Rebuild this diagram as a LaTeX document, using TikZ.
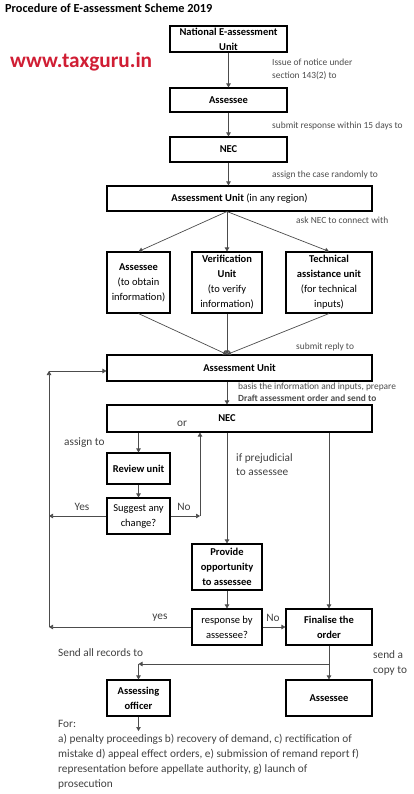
\documentclass[tikz,border=0pt]{standalone}
\usepackage{fontspec}
\setmainfont{Carlito}
\usetikzlibrary{arrows.meta}
\definecolor{guru}{RGB}{208,30,52}

\begin{document}
\begin{tikzpicture}[x=1pt,y=-1pt]
			\tikzset{
			  box/.style = { draw, line width=1.1pt, align=center, inner sep=1pt,
			                 font = \fontsize{10.5}{15}\selectfont\bfseries },
			  ask/.style = { box, font = \fontsize{10.5}{15}\selectfont },
			  lbl/.style = { anchor=west, align=left, inner sep=0pt, text=black!70,
			                 font = \fontsize{9.4}{12.5}\selectfont },
			  txt/.style = { align=left, inner sep=0pt, text=black!75,
			                 font = \fontsize{11.3}{15}\selectfont },
			  conn/.style = { -{Triangle[length=4pt,width=4.5pt]}, draw=black!70,
			                  line width=0.7pt } }
			\useasboundingbox (0,0) rectangle (414,794);
			\node[anchor=west, inner sep=0pt, font=\fontsize{12.3}{14}\selectfont\bfseries] (title) at (5,8) {Procedure of E-assessment Scheme 2019};
			\node[anchor=west, inner sep=0pt, text=guru, font=\fontsize{21.3}{24}\selectfont\bfseries] (site) at (10,62) {www.taxguru.in};
			% main column
			\node[box, minimum width=117, minimum height=26] (natunit) at (228.5,39) {National E-assessment\\Unit};
			\node[box, minimum width=117, minimum height=24] (assessee) at (228.5,100) {Assessee};
			\node[box, minimum width=117, minimum height=25] (nec) at (228.5,149.5) {NEC};
			\node[box, minimum width=265, minimum height=25] (asunit) at (239.5,198.5) {Assessment Unit {\mdseries (in any region)}};
			\node[box, minimum width=63, minimum height=61] (obtain) at (138.5,282.5) {Assessee\\{\mdseries (to obtain}\\{\mdseries information)}};
			\node[box, minimum width=70, minimum height=61] (verify) at (227,282.5) {Verification\\Unit\\{\mdseries (to verify}\\{\mdseries information)}};
			\node[box, minimum width=86, minimum height=61] (tech) at (329,282.5) {Technical\\assistance unit\\{\mdseries (for technical}\\{\mdseries inputs)}};
			\node[box, minimum width=265, minimum height=26] (asunit2) at (239.5,368) {Assessment Unit};
			\node[box, minimum width=265, minimum height=27] (nec2) at (239.5,418.5) {};
			\node[inner sep=0pt, font=\fontsize{10.5}{15}\selectfont\bfseries] (nec2txt) at (nec2.center -| verify) {NEC};
			\node[box, minimum width=63, minimum height=31] (review) at (138.5,468.5) {Review unit};
			\node[ask, minimum width=63, minimum height=36] (suggest) at (138.5,516) {Suggest any\\change?};
			\node[box, minimum width=70, minimum height=46] (provide) at (227,567) {Provide\\opportunity\\to assessee};
			\node[ask, minimum width=70, minimum height=36] (response) at (227,627) {response by\\assessee?};
			\node[box, minimum width=86, minimum height=36] (finalise) at (329,627) {Finalise the\\order};
			\node[box, minimum width=63, minimum height=36] (officer) at (138.5,698) {Assessing\\officer};
			\node[box, minimum width=86, minimum height=36] (assessee2) at (329,698) {Assessee};
			% turning points
			\coordinate (loopbot) at (49,627);
			\coordinate (looptop) at (49,371);
			\coordinate (noturn) at (200,516);
			\coordinate (split) at (329,664);
			\coordinate (forpt) at (138.5,731);
			% connectors
			\draw[conn] (natunit) -- (assessee);
			\draw[conn] (assessee) -- (nec);
			\draw[conn] (nec) -- (nec |- asunit.north);
			\draw[conn] (asunit.south -| verify) -- (obtain.north);
			\draw[conn] (asunit.south -| verify) -- (verify.north);
			\draw[conn] (asunit.south -| verify) -- (tech.north);
			\draw[conn] (obtain.south) -- (asunit2.north -| verify);
			\draw[conn] (verify.south) -- (asunit2.north -| verify);
			\draw[conn] (tech.south) -- (asunit2.north -| verify);
			\draw[conn] (asunit2.south -| verify) -- (nec2.north -| verify);
			\draw[conn] (nec2.south -| review) -- (review);
			\draw[conn] (review) -- (suggest);
			\draw[conn] (suggest.west) -- (suggest.west -| loopbot);
			\draw[conn] (suggest.east) -- (noturn);
			\draw[conn] (noturn) -- (noturn |- nec2.south);
			\draw[conn] (nec2.south -| provide) -- (provide);
			\draw[conn] (provide) -- (response);
			\draw[conn] (response) -- (finalise);
			\draw[conn] (response.west) -- (loopbot);
			\draw[conn] (loopbot) -- (looptop);
			\draw[conn] (looptop) -- (looptop -| asunit2.west);
			\draw[conn] (nec2.south -| finalise) -- (finalise);
			\draw[conn] (finalise) -- (assessee2);
			\draw[conn] (split) -- (split -| officer);
			\draw[conn] (split -| officer) -- (officer);
			\draw[conn] (officer.south) -- (forpt);
			% labels
			\node[lbl] (lissue) at (272,69.5) {Issue of notice under\\section 143(2) to};
			\node[lbl] (lsubmit) at (272,126) {submit response within 15 days to};
			\node[lbl] (lassign) at (272,175) {assign the case randomly to};
			\node[lbl] (lconnect) at (296,220) {ask NEC to connect with};
			\node[lbl] (lreply) at (296,347) {submit reply to};
			\node[lbl] (lbasis) at (238,392.5) {basis the information and inputs, prepare\\\textbf{Draft assessment order and send to}};
			\node[txt] (lor) at (182,424) {or};
			\node[txt, anchor=west] (lassignto) at (64,443) {assign to};
			\node[txt, anchor=west, font=\fontsize{11.3}{14}\selectfont] (lprej) at (236,465) {if prejudicial\\to assessee};
			\node[txt] (lyes) at (82,507) {Yes};
			\node[txt] (lno) at (184,507) {No};
			\node[txt] (lyes2) at (160,618) {yes};
			\node[txt] (lno2) at (273,618) {No};
			\node[txt, anchor=west] (lrecords) at (58,653) {Send all records to};
			\node[txt, anchor=west] (lcopy) at (373,662.5) {send a\\copy to};
			\node[txt, anchor=west] (lfor) at (58,724) {For:};
			\node[txt, anchor=north west] (lpurpose) at (58,734) {a) penalty proceedings b) recovery of demand, c) rectification of\\mistake d) appeal effect orders, e) submission of remand report f)\\representation before appellate authority, g) launch of\\prosecution};
		\end{tikzpicture}
\end{document}
